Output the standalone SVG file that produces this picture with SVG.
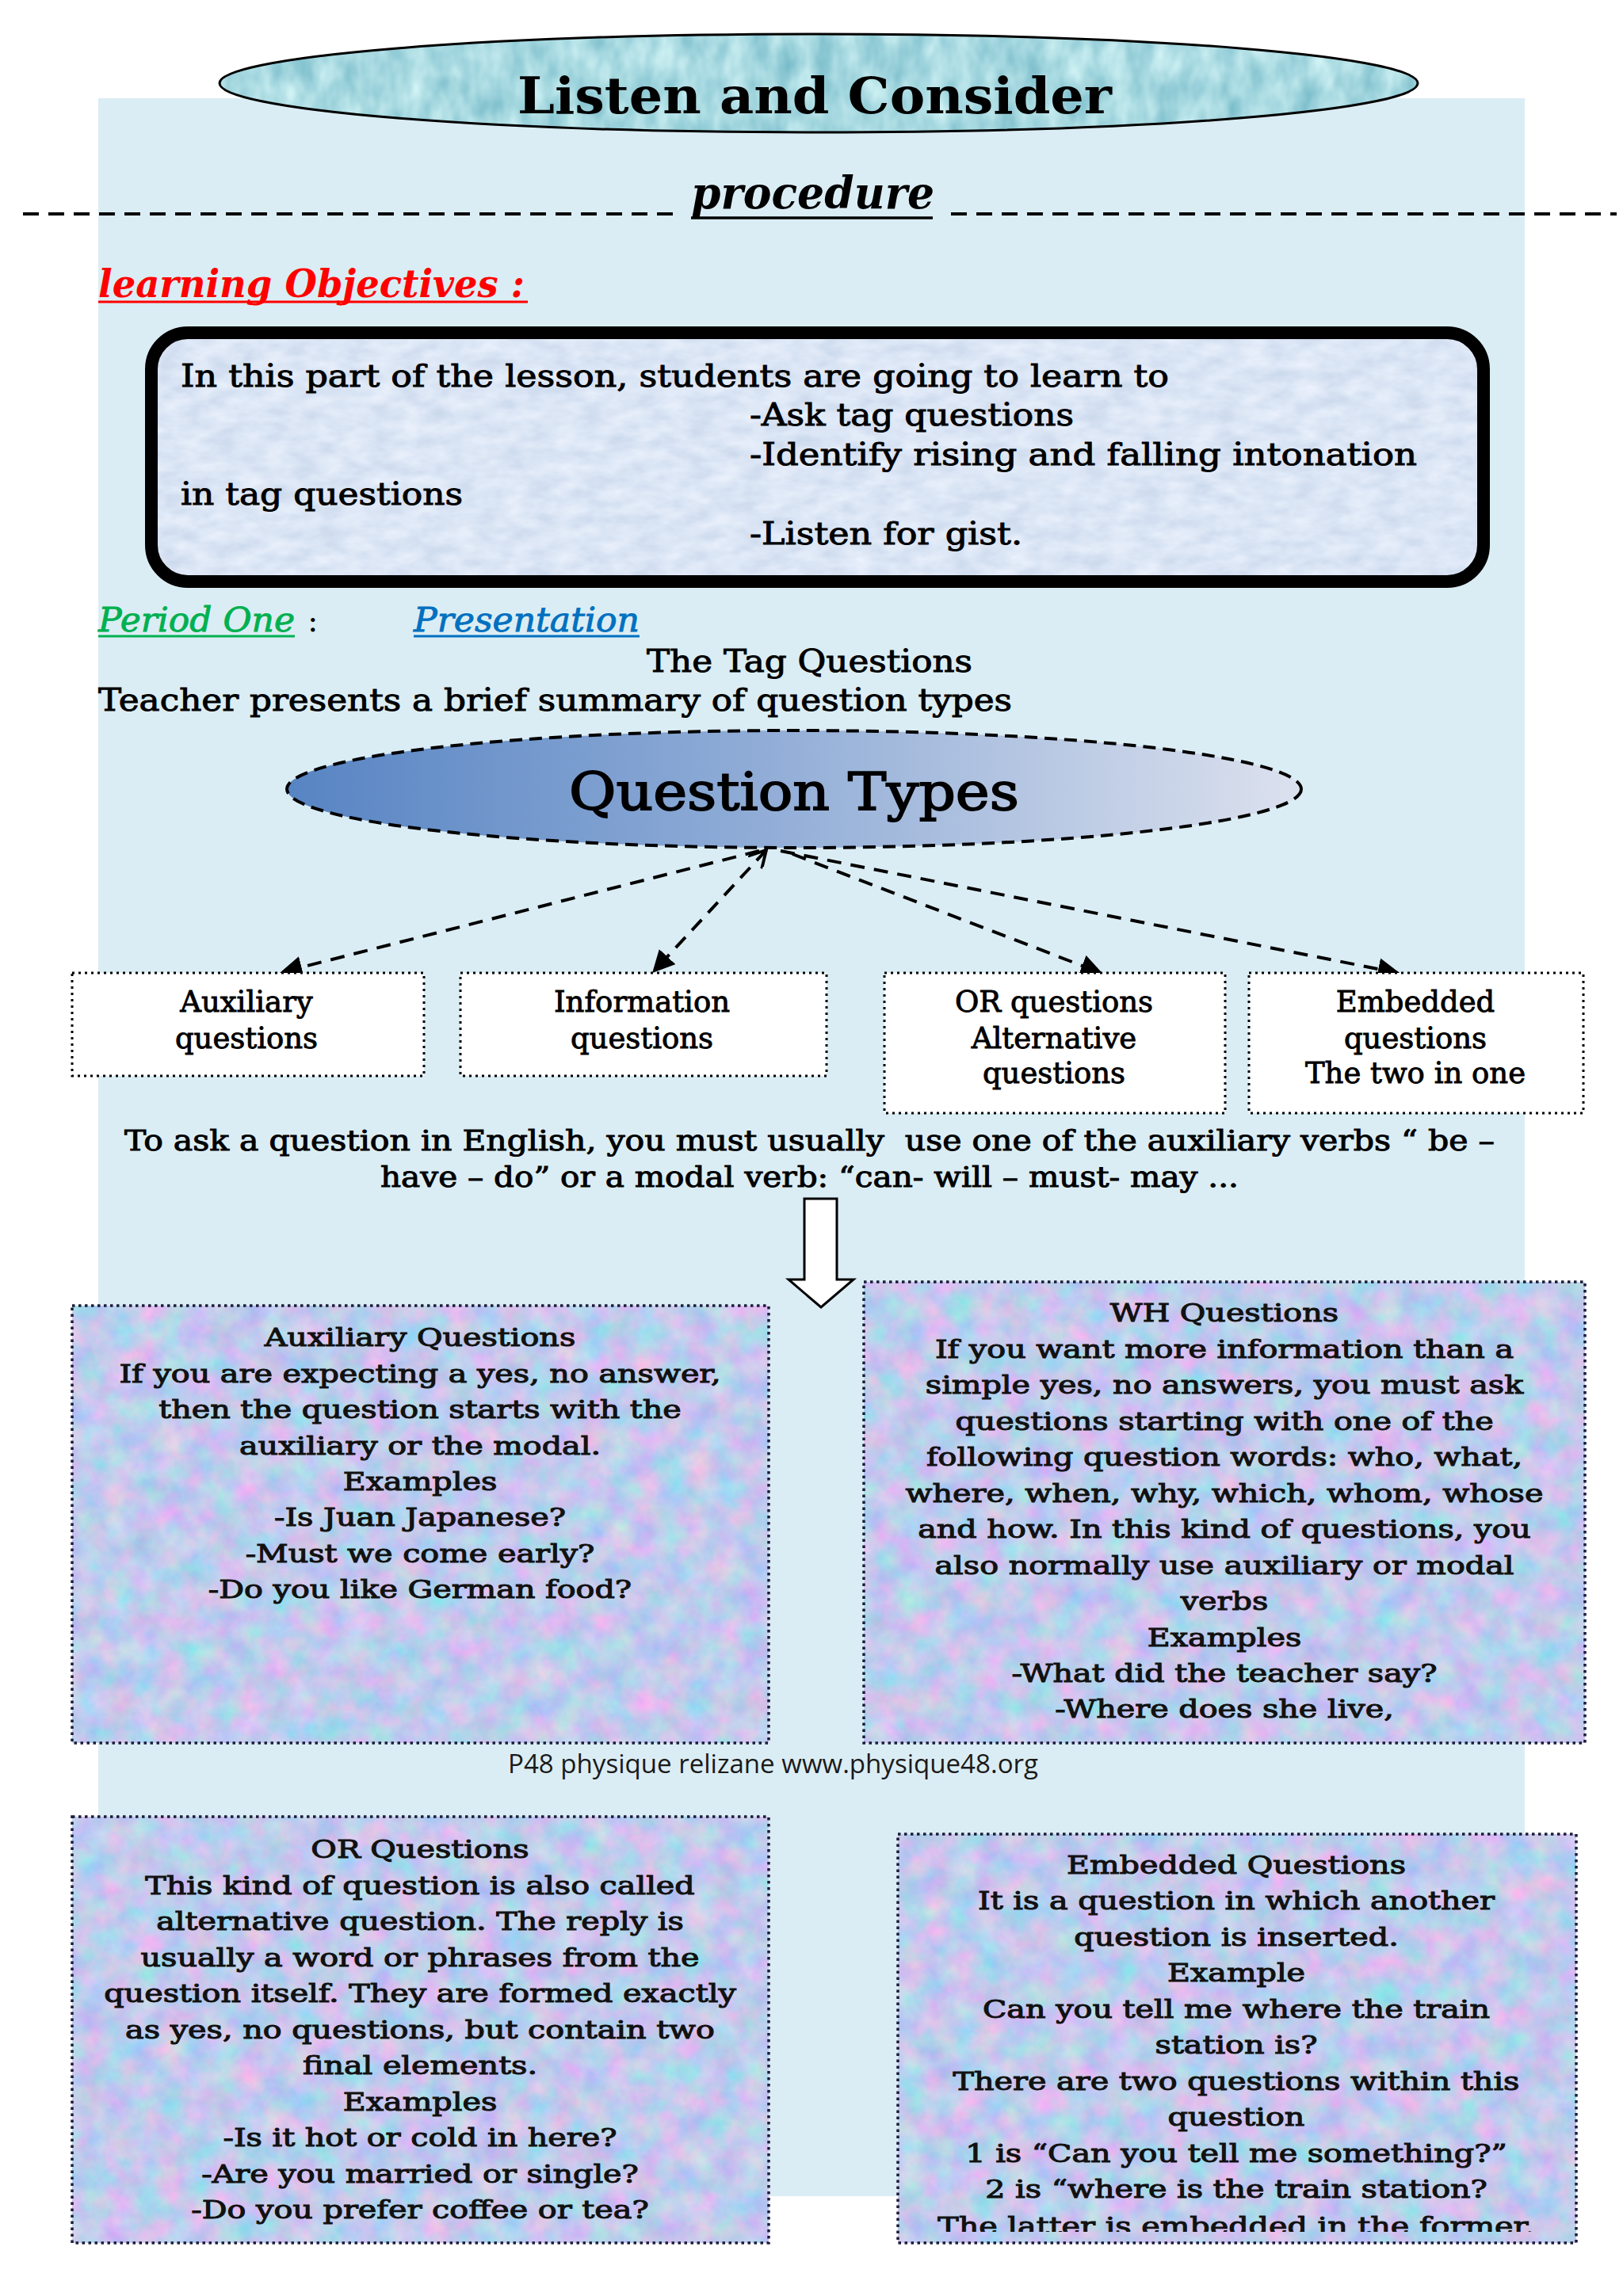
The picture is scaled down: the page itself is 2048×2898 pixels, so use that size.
<svg xmlns="http://www.w3.org/2000/svg" width="2048" height="2898" viewBox="0 0 2048 2898">
<defs>
<style>
.serif{font-family:"DejaVu Serif","Liberation Serif",serif;fill:#000}
.c{text-anchor:middle}
.body{font-family:"DejaVu Serif","Liberation Serif",serif;font-size:32px;fill:#111;stroke:#111;stroke-width:1.1px;text-anchor:middle}
.lbl{font-family:"DejaVu Serif","Liberation Serif",serif;font-size:37px;fill:#000;stroke:#000;stroke-width:0.9px;text-anchor:middle}
.obj{font-family:"DejaVu Serif","Liberation Serif",serif;font-size:40px;fill:#000;stroke:#000;stroke-width:1px}
.med{stroke:#000;stroke-width:1px}
.dotbox{fill:#fff;stroke:#000;stroke-width:3;stroke-dasharray:3 5}
.dotbox2{fill:none;stroke:#1b1b3a;stroke-width:3.5;stroke-dasharray:3.5 4.5}
.conn{fill:none;stroke:#000;stroke-width:4;stroke-dasharray:18 12}
</style>
<linearGradient id="qtGrad" x1="0" y1="0" x2="1" y2="0">
<stop offset="0" stop-color="#5784c3"/>
<stop offset="0.45" stop-color="#8eabd6"/>
<stop offset="1" stop-color="#dce1ee"/>
</linearGradient>
<filter id="mottle" x="0" y="0" width="1" height="1" color-interpolation-filters="sRGB">
<feTurbulence type="fractalNoise" baseFrequency="0.03" numOctaves="4" seed="7"/>
<feColorMatrix type="matrix" values="0.4 -0.25 0 0 0.68  0 0.25 -0.1 0 0.72  0 0 0.12 0 0.87  0 0 0 0 1"/>
<feComposite in2="SourceGraphic" operator="in"/>
</filter>
<filter id="pale" x="0" y="0" width="1" height="1" color-interpolation-filters="sRGB">
<feTurbulence type="fractalNoise" baseFrequency="0.03 0.06" numOctaves="3" seed="2"/>
<feColorMatrix type="matrix" values="0.16 0 0 0 0.78  0.12 0 0 0 0.84  0.08 0 0 0 0.92  0 0 0 0 1"/>
<feComposite in2="SourceGraphic" operator="in"/>
</filter>
<filter id="aqua" x="0" y="0" width="1" height="1" color-interpolation-filters="sRGB">
<feTurbulence type="fractalNoise" baseFrequency="0.035 0.02" numOctaves="3" seed="4"/>
<feColorMatrix type="matrix" values="0.45 0 0 0 0.43  0.28 0 0 0 0.71  0.22 0 0 0 0.77  0 0 0 0 1"/>
<feComposite in2="SourceGraphic" operator="in"/>
</filter>
<marker id="ah" viewBox="0 0 10 10" refX="9" refY="5" markerWidth="7" markerHeight="7" markerUnits="strokeWidth" orient="auto">
<path d="M0,0 L10,5 L0,10 Z" fill="#000"/>
</marker>
<marker id="ao" viewBox="0 0 10 10" refX="1" refY="5" markerWidth="6" markerHeight="6" markerUnits="strokeWidth" orient="auto">
<path d="M10,0 L1,5 L10,10" fill="none" stroke="#000" stroke-width="1.6"/>
</marker>
<clipPath id="embClip"><rect x="1133" y="2315" width="856" height="502"/></clipPath>
</defs>

<rect x="0" y="0" width="2048" height="2898" fill="#fff"/>
<rect id="page-bg" x="124" y="124" width="1800" height="2648" fill="#dbedf4"/>

<g id="title">
<ellipse cx="1033" cy="105" rx="756" ry="62" fill="#a6d6e0" filter="url(#aqua)"/>
<ellipse cx="1033" cy="105" rx="756" ry="62" fill="none" stroke="#000" stroke-width="3"/>
<text class="serif c" x="1028" y="143" font-size="64" font-weight="bold" textLength="750" lengthAdjust="spacingAndGlyphs">Listen and Consider</text>
</g>

<g id="procedure">
<line x1="29" y1="270" x2="858" y2="270" stroke="#000" stroke-width="4" stroke-dasharray="20 12"/>
<line x1="1200" y1="270" x2="2040" y2="270" stroke="#000" stroke-width="4" stroke-dasharray="20 12"/>
<text class="serif" x="872" y="263" font-size="56" font-weight="bold" font-style="italic" textLength="307" lengthAdjust="spacingAndGlyphs">procedure</text>
<line x1="872" y1="275" x2="1177" y2="275" stroke="#000" stroke-width="3.5"/>
</g>

<g id="objectives-heading">
<text class="serif" x="124" y="375" font-size="48" font-weight="bold" font-style="italic" style="fill:#ff0000" textLength="538" lengthAdjust="spacingAndGlyphs">learning Objectives :</text>
<line x1="124" y1="381" x2="666" y2="381" stroke="#ff0000" stroke-width="3"/>
</g>

<g id="objectives-box">
<rect x="191" y="420" width="1681" height="314" rx="46" fill="#dce6f4" filter="url(#pale)"/>
<rect x="191" y="420" width="1681" height="314" rx="46" fill="none" stroke="#000" stroke-width="16"/>
<text class="obj" x="228" y="488" textLength="1247" lengthAdjust="spacingAndGlyphs">In this part of the lesson, students are going to learn to</text>
<text class="obj" x="946" y="537" textLength="409" lengthAdjust="spacingAndGlyphs">-Ask tag questions</text>
<text class="obj" x="946" y="587" textLength="842" lengthAdjust="spacingAndGlyphs">-Identify rising and falling intonation</text>
<text class="obj" x="228" y="637" textLength="356" lengthAdjust="spacingAndGlyphs">in tag questions</text>
<text class="obj" x="946" y="687" textLength="344" lengthAdjust="spacingAndGlyphs">-Listen for gist.</text>
</g>

<g id="period">
<text class="serif" x="124" y="797" font-size="42" font-style="italic" style="fill:#00b050;stroke:#00b050;stroke-width:0.9px" textLength="248" lengthAdjust="spacingAndGlyphs">Period One</text>
<line x1="124" y1="803" x2="372" y2="803" stroke="#00b050" stroke-width="3"/>
<text class="serif" x="388" y="797" font-size="40">:</text>
<text class="serif" x="522" y="797" font-size="42" font-style="italic" style="fill:#0070c0;stroke:#0070c0;stroke-width:0.9px" textLength="285" lengthAdjust="spacingAndGlyphs">Presentation</text>
<line x1="522" y1="803" x2="807" y2="803" stroke="#0070c0" stroke-width="3"/>
<text class="serif med" x="816" y="848" font-size="40" textLength="411" lengthAdjust="spacingAndGlyphs">The Tag Questions</text>
<text class="serif med" x="124" y="897" font-size="40" textLength="1153" lengthAdjust="spacingAndGlyphs">Teacher presents a brief summary of question types</text>
</g>

<g id="question-types">
<ellipse cx="1002" cy="996" rx="640" ry="74" fill="url(#qtGrad)" stroke="#000" stroke-width="4" stroke-dasharray="16 9"/>
<text class="serif" x="718" y="1022" font-size="66" style="stroke:#000;stroke-width:1.8px" textLength="568" lengthAdjust="spacingAndGlyphs">Question Types</text>
</g>

<g id="connectors">
<path class="conn" d="M958 1074 L356 1227" marker-end="url(#ah)"/>
<path class="conn" d="M967 1073 L825 1226" marker-start="url(#ao)" marker-end="url(#ah)"/>
<path class="conn" d="M1000 1078 L1389 1228" marker-end="url(#ah)"/>
<path class="conn" d="M985 1074 L1764 1228" marker-end="url(#ah)"/>
</g>

<g id="box-auxiliary">
<rect class="dotbox" x="91" y="1228" width="444" height="130"/>
<text class="lbl" x="311" y="1277">Auxiliary</text>
<text class="lbl" x="311" y="1323">questions</text>
</g>
<g id="box-information">
<rect class="dotbox" x="581" y="1228" width="462" height="130"/>
<text class="lbl" x="810" y="1277">Information</text>
<text class="lbl" x="810" y="1323">questions</text>
</g>
<g id="box-or">
<rect class="dotbox" x="1116" y="1228" width="430" height="177"/>
<text class="lbl" x="1330" y="1277">OR questions</text>
<text class="lbl" x="1330" y="1323">Alternative</text>
<text class="lbl" x="1330" y="1367">questions</text>
</g>
<g id="box-embedded">
<rect class="dotbox" x="1576" y="1228" width="422" height="177"/>
<text class="lbl" x="1786" y="1277">Embedded</text>
<text class="lbl" x="1786" y="1323">questions</text>
<text class="lbl" x="1786" y="1367">The two in one</text>
</g>

<g id="intro-text">
<text class="serif med" x="157" y="1452" font-size="35" xml:space="preserve" textLength="1729" lengthAdjust="spacingAndGlyphs">To ask a question in English, you must usually  use one of the auxiliary verbs “ be –</text>
<text class="serif med" x="480" y="1498" font-size="35" textLength="1083" lengthAdjust="spacingAndGlyphs">have – do” or a modal verb: “can- will – must- may ...</text>
</g>

<g id="down-arrow">
<polygon points="1015,1513 1056,1513 1056,1615 1077,1615 1036,1650 995,1615 1015,1615" fill="#fff" stroke="#000" stroke-width="3" stroke-linejoin="miter"/>
</g>

<g id="aux-questions">
<rect x="91" y="1648" width="879" height="552" fill="#bccbf0" filter="url(#mottle)"/>
<rect class="dotbox2" x="91" y="1648" width="879" height="552"/>
<g transform="translate(530 0) scale(1.24 1)">
<text class="body" x="0" y="1699">Auxiliary Questions</text>
<text class="body" x="0" y="1745">If you are expecting a yes, no answer,</text>
<text class="body" x="0" y="1790">then the question starts with the</text>
<text class="body" x="0" y="1836">auxiliary or the modal.</text>
<text class="body" x="0" y="1881">Examples</text>
<text class="body" x="0" y="1926">-Is Juan Japanese?</text>
<text class="body" x="0" y="1972">-Must we come early?</text>
<text class="body" x="0" y="2017">-Do you like German food?</text>
</g>
</g>

<g id="wh-questions">
<rect x="1090" y="1618" width="910" height="582" fill="#bccbf0" filter="url(#mottle)"/>
<rect class="dotbox2" x="1090" y="1618" width="910" height="582"/>
<g transform="translate(1545 0) scale(1.24 1)">
<text class="body" x="0" y="1668">WH Questions</text>
<text class="body" x="0" y="1714">If you want more information than a</text>
<text class="body" x="0" y="1759">simple yes, no answers, you must ask</text>
<text class="body" x="0" y="1805">questions starting with one of the</text>
<text class="body" x="0" y="1850">following question words: who, what,</text>
<text class="body" x="0" y="1896">where, when, why, which, whom, whose</text>
<text class="body" x="0" y="1941">and how. In this kind of questions, you</text>
<text class="body" x="0" y="1987">also normally use auxiliary or modal</text>
<text class="body" x="0" y="2032">verbs</text>
<text class="body" x="0" y="2078">Examples</text>
<text class="body" x="0" y="2123">-What did the teacher say?</text>
<text class="body" x="0" y="2168">-Where does she live,</text>
</g>
</g>

<text id="footer" x="641" y="2238" font-family="'Open Sans','Noto Sans','Liberation Sans',sans-serif" font-size="33" fill="#1a1a1a" textLength="669" lengthAdjust="spacingAndGlyphs">P48 physique relizane www.physique48.org</text>

<g id="or-questions">
<rect x="91" y="2293" width="879" height="538" fill="#bccbf0" filter="url(#mottle)"/>
<rect class="dotbox2" x="91" y="2293" width="879" height="538"/>
<g transform="translate(530 0) scale(1.24 1)">
<text class="body" x="0" y="2345">OR Questions</text>
<text class="body" x="0" y="2391">This kind of question is also called</text>
<text class="body" x="0" y="2436">alternative question. The reply is</text>
<text class="body" x="0" y="2482">usually a word or phrases from the</text>
<text class="body" x="0" y="2527">question itself. They are formed exactly</text>
<text class="body" x="0" y="2573">as yes, no questions, but contain two</text>
<text class="body" x="0" y="2618">final elements.</text>
<text class="body" x="0" y="2664">Examples</text>
<text class="body" x="0" y="2709">-Is it hot or cold in here?</text>
<text class="body" x="0" y="2755">-Are you married or single?</text>
<text class="body" x="0" y="2800">-Do you prefer coffee or tea?</text>
</g>
</g>

<g id="embedded-questions">
<rect x="1133" y="2315" width="856" height="516" fill="#bccbf0" filter="url(#mottle)"/>
<g clip-path="url(#embClip)">
<g transform="translate(1560 0) scale(1.24 1)">
<text class="body" x="0" y="2365">Embedded Questions</text>
<text class="body" x="0" y="2410">It is a question in which another</text>
<text class="body" x="0" y="2456">question is inserted.</text>
<text class="body" x="0" y="2501">Example</text>
<text class="body" x="0" y="2547">Can you tell me where the train</text>
<text class="body" x="0" y="2592">station is?</text>
<text class="body" x="0" y="2638">There are two questions within this</text>
<text class="body" x="0" y="2683">question</text>
<text class="body" x="0" y="2729">1 is “Can you tell me something?”</text>
<text class="body" x="0" y="2774">2 is “where is the train station?</text>
<text class="body" x="0" y="2821">The latter is embedded in the former.</text>
</g>
</g>
<rect class="dotbox2" x="1133" y="2315" width="856" height="516"/>
</g>
</svg>
